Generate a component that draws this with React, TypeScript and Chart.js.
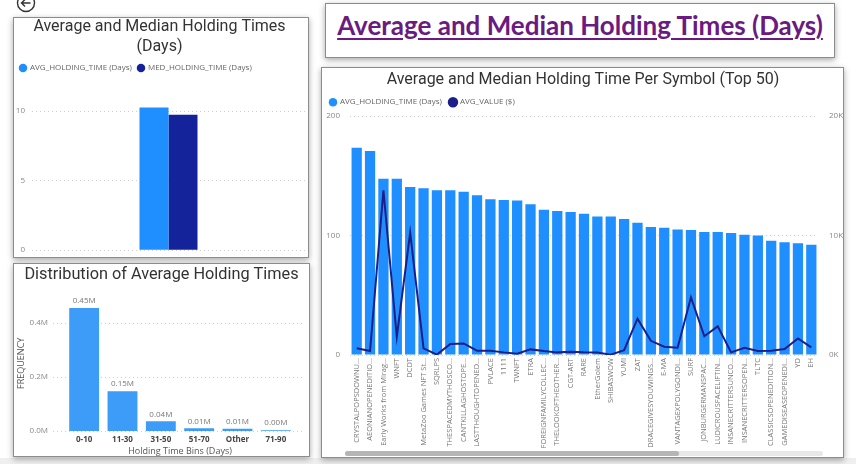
import React, { useEffect, useRef } from "react";
import { Chart, registerables } from "chart.js";

Chart.register(...registerables);
Chart.defaults.font.family = "'Open Sans', 'Noto Sans', sans-serif";
Chart.defaults.color = "#777";

// ---------- data ----------
const summaryCategories = ["Holding Time"];
const avgHoldingTime = [10.27];
const medHoldingTime = [9.75];
const summaryTicks = [0, 5, 10];

const binLabels = ["0-10", "11-30", "31-50", "51-70", "Other", "71-90"];
const binFrequency = [454000, 147000, 36000, 10000, 8000, 3000];
const binTicks = [0, 200000, 400000];

const symbols = [
  "CRYSTALPOPSDOWNU...",
  "AEONIANOPENEDITIO...",
  "Early Works from Mirag...",
  "WNFT",
  "DCDT",
  "MetaZoo Games NFT St...",
  "SQRLPS",
  "THESPACEDMYTHOSCO...",
  "CANTKILLAGHOSTOPE...",
  "LASTTHOUGHTOPENED...",
  "PVLACE",
  "1111",
  "TWNFT",
  "ETRA",
  "FOREIGNFAMILYCOLLEC...",
  "THELOOKOFTHEOTHER...",
  "CGT-ART",
  "RARE",
  "EtherGolem",
  "SHIBASWOW",
  "YUMI",
  "ZAT",
  "DRACEGIVESYOUWINGS...",
  "E-MA",
  "VANTAGEXPOLYGONDI...",
  "SURF",
  "JONBURGERMANSPAC...",
  "LUDICROUSFACELIFTIN...",
  "INSANECRITTERSUNCO...",
  "INSANECRITTERSOPEN...",
  "TLTC",
  "CLASSICSOPENEDITION...",
  "GAMEDISEASEOPENEDI...",
  "YD",
  "EH",
];
const symbolAvgHolding = [
  173.5, 170.8, 147.6, 147.6, 140.7, 139.6, 137.9, 137.9, 136.8, 133.7, 130.4, 129.8,
  129.5, 126.2, 121.7, 120.6, 119.8, 118.3, 116.0, 116.0, 113.8, 110.8, 107.2, 106.6,
  105.2, 104.7, 103.0, 103.0, 102.2, 100.8, 100.0, 95.6, 94.5, 93.6, 92.3,
];
const symbolAvgValue = [
  560, 330, 13800, 1530, 10250, 560, 30, 920, 970, 360, 360, 220, 110, 470, 330, 220,
  280, 220, 200, 30, 410, 3040, 1190, 690, 610, 4830, 1570, 2400, 220, 610, 330, 360,
  500, 1380, 640,
];
const symbolLeftTicks = [0, 100, 200];
const symbolRightTicks = [0, 10000, 20000];

// ---------- styles ----------
const LIGHT_BLUE = "#1f8fff";
const HIST_BLUE = "#3d9cf7";
const NAVY = "#15239a";
const LINE_NAVY = "#1b1f8a";
const TITLE_FONT = "Roboto, 'Noto Sans', sans-serif";
const TITLE_COLOR = "#333333";
const GRID_COLOR = "#cfcfcf";

function fixWidth(w: number) {
  return (scale: any) => {
    scale.width = w;
  };
}
function fixHeight(h: number) {
  return (scale: any) => {
    scale.height = h;
  };
}

const extendedGrid = (left: number, right: number) => ({
  id: "extendedGrid",
  beforeDatasetsDraw(chart: any) {
    const ctx = chart.ctx;
    const y = chart.scales.y;
    const area = chart.chartArea;
    ctx.save();
    ctx.strokeStyle = GRID_COLOR;
    ctx.lineWidth = 1;
    ctx.setLineDash([1, 3]);
    y.ticks.forEach((t: any) => {
      const py = Math.round(y.getPixelForValue(t.value)) + 0.5;
      ctx.beginPath();
      ctx.moveTo(area.left - left, py);
      ctx.lineTo(area.right + right, py);
      ctx.stroke();
    });
    ctx.restore();
  },
});

const barValueLabels = {
  id: "barValueLabels",
  afterDatasetsDraw(chart: any) {
    const ctx = chart.ctx;
    const meta = chart.getDatasetMeta(0);
    const data = chart.data.datasets[0].data as number[];
    ctx.save();
    ctx.font = "8px 'Open Sans', sans-serif";
    ctx.fillStyle = "#777";
    ctx.textAlign = "center";
    ctx.textBaseline = "bottom";
    meta.data.forEach((el: any, i: number) => {
      ctx.fillText((data[i] / 1e6).toFixed(2) + "M", el.x, el.y - 3);
    });
    ctx.restore();
  },
};

function ChartCanvas({
  left,
  top,
  width,
  height,
  make,
}: {
  left: number;
  top: number;
  width: number;
  height: number;
  make: () => any;
}) {
  const ref = useRef<HTMLCanvasElement>(null);
  useEffect(() => {
    const chart = new Chart(ref.current as HTMLCanvasElement, make());
    return () => chart.destroy();
  }, []);
  return (
    <canvas
      ref={ref}
      width={width}
      height={height}
      style={{ position: "absolute", left, top, width, height }}
    />
  );
}

const legendLabels = (padding: number) => ({
  usePointStyle: true,
  pointStyle: "circle",
  boxWidth: 6,
  boxHeight: 6,
  font: { size: 8 },
  color: "#666",
  padding,
  sort: (a: any, b: any) => a.datasetIndex - b.datasetIndex,
});

function summaryConfig() {
  return {
    type: "bar",
    data: {
      labels: summaryCategories,
      datasets: [
        {
          label: "AVG_HOLDING_TIME (Days)",
          data: avgHoldingTime,
          backgroundColor: LIGHT_BLUE,
          categoryPercentage: 0.2125,
          barPercentage: 1,
        },
        {
          label: "MED_HOLDING_TIME (Days)",
          data: medHoldingTime,
          backgroundColor: NAVY,
          categoryPercentage: 0.2125,
          barPercentage: 1,
        },
      ],
    },
    options: {
      responsive: false,
      animation: false,
      layout: { padding: { left: 0, right: 3, top: 0, bottom: 2 } },
      plugins: {
        tooltip: { enabled: false },
        title: {
          display: true,
          text: ["Average and Median Holding Times", "(Days)"],
          color: TITLE_COLOR,
          font: { family: TITLE_FONT, size: 16, weight: "normal", lineHeight: 1.25 },
          padding: { top: 3, bottom: 1 },
        },
        legend: {
          display: true,
          align: "start",
          labels: legendLabels(6),
        },
      },
      scales: {
        x: {
          display: false,
        },
        y: {
          min: 0,
          max: 12.1,
          afterFit: fixWidth(18),
          afterBuildTicks: (s: any) => {
            s.ticks = summaryTicks.map((v) => ({ value: v }));
          },
          border: { display: false, dash: [1, 3] },
          grid: { color: GRID_COLOR, drawTicks: false },
          ticks: { font: { size: 8 }, color: "#888", padding: 7 },
        },
      },
    },
  } as any;
}

function histogramConfig() {
  return {
    type: "bar",
    data: {
      labels: binLabels,
      datasets: [
        {
          label: "FREQUENCY",
          data: binFrequency,
          backgroundColor: HIST_BLUE,
          categoryPercentage: 0.78,
          barPercentage: 1,
        },
      ],
    },
    plugins: [extendedGrid(12, 10), barValueLabels],
    options: {
      responsive: false,
      animation: false,
      layout: { padding: 0 },
      plugins: {
        tooltip: { enabled: false },
        legend: { display: false },
        title: {
          display: true,
          text: "Distribution of Average Holding Times",
          color: TITLE_COLOR,
          font: { family: TITLE_FONT, size: 16.3, weight: "normal", lineHeight: 1.2 },
          padding: { top: 3, bottom: 11 },
        },
      },
      scales: {
        x: {
          afterFit: fixHeight(26),
          grid: { display: false, drawTicks: false },
          border: { display: false },
          ticks: { font: { size: 8, weight: "bold" }, color: "#444", padding: 4 },
          title: {
            display: true,
            text: "Holding Time Bins (Days)",
            color: "#555",
            font: { size: 9 },
            padding: { top: 0, bottom: 0 },
          },
        },
        y: {
          min: 0,
          max: 500000,
          afterFit: fixWidth(51),
          afterBuildTicks: (s: any) => {
            s.ticks = binTicks.map((v) => ({ value: v }));
          },
          grid: { display: false, drawTicks: false },
          border: { display: false },
          ticks: {
            font: { size: 8 },
            color: "#888",
            padding: 17,
            callback: (v: any) => (v / 1e6).toFixed(1) + "M",
          },
          title: {
            display: true,
            text: "FREQUENCY",
            color: "#555",
            font: { size: 9 },
            padding: { top: 2, bottom: 0 },
          },
        },
        margin: {
          position: "right",
          display: true,
          afterFit: fixWidth(14),
          grid: { display: false, drawTicks: false },
          border: { display: false },
          ticks: { display: false },
        },
      },
    },
  } as any;
}

function symbolConfig() {
  return {
    type: "bar",
    data: {
      labels: symbols,
      datasets: [
        {
          type: "bar",
          label: "AVG_HOLDING_TIME (Days)",
          data: symbolAvgHolding,
          backgroundColor: LIGHT_BLUE,
          categoryPercentage: 0.8,
          barPercentage: 0.96,
          yAxisID: "y",
          order: 2,
        },
        {
          type: "line",
          label: "AVG_VALUE ($)",
          data: symbolAvgValue,
          borderColor: LINE_NAVY,
          backgroundColor: LINE_NAVY,
          borderWidth: 2,
          pointRadius: 0,
          tension: 0,
          yAxisID: "y1",
          order: 1,
        },
      ],
    },
    options: {
      responsive: false,
      animation: false,
      layout: { padding: 0 },
      plugins: {
        tooltip: { enabled: false },
        title: {
          display: true,
          text: "Average and Median Holding Time Per Symbol (Top 50)",
          color: TITLE_COLOR,
          font: { family: TITLE_FONT, size: 16, weight: "normal", lineHeight: 1.2 },
          padding: { top: 3, bottom: 1 },
        },
        legend: {
          display: true,
          align: "start",
          labels: legendLabels(8),
        },
      },
      scales: {
        x: {
          afterFit: fixHeight(95),
          grid: { display: false, drawTicks: false },
          border: { display: false },
          ticks: {
            autoSkip: false,
            minRotation: 90,
            maxRotation: 90,
            font: { size: 7.5 },
            color: "#777",
            padding: 3,
          },
        },
        y: {
          position: "left",
          min: 0,
          max: 200,
          afterFit: fixWidth(28),
          afterBuildTicks: (s: any) => {
            s.ticks = symbolLeftTicks.map((v) => ({ value: v }));
          },
          border: { display: false, dash: [1, 3] },
          grid: { color: GRID_COLOR, drawTicks: false },
          ticks: { font: { size: 8 }, color: "#888", padding: 10 },
        },
        y1: {
          position: "right",
          min: 0,
          max: 20000,
          afterFit: fixWidth(26),
          afterBuildTicks: (s: any) => {
            s.ticks = symbolRightTicks.map((v) => ({ value: v }));
          },
          border: { display: false },
          grid: { display: false, drawTicks: false },
          ticks: {
            font: { size: 8 },
            color: "#888",
            padding: 11,
            callback: (v: any) => v / 1000 + "K",
          },
        },
      },
    },
  } as any;
}

const panelStyle = (left: number, top: number, width: number, height: number): React.CSSProperties => ({
  position: "absolute",
  left,
  top,
  width,
  height,
  boxSizing: "border-box",
  border: "1px solid #8c8c8c",
  background: "#fff",
  boxShadow: "0 2px 6px rgba(0,0,0,0.35)",
});

export default function App() {
  return (
    <div
      style={{
        position: "absolute",
        left: 0,
        top: 0,
        width: 856,
        height: 464,
        overflow: "hidden",
        background: "#fff",
      }}
    >
      <div style={{ position: "absolute", left: 0, top: 458, width: 856, height: 6, background: "#efefef" }} />

      <svg
        width={22}
        height={14}
        viewBox="0 0 22 14"
        style={{ position: "absolute", left: 16, top: 0 }}
      >
        <circle cx={10} cy={3} r={8.5} fill="none" stroke="#333" strokeWidth={1.4} />
        <path d="M14.5 3 H5.5 M9 -0.5 L5.5 3 L9 6.5" fill="none" stroke="#333" strokeWidth={1.4} />
      </svg>

      <div style={panelStyle(13, 17, 296, 241)} />
      <div style={panelStyle(13, 263, 297, 194)} />
      <ChartCanvas left={14} top={262} width={295} height={195} make={histogramConfig} />
      <ChartCanvas left={14} top={14} width={294} height={248} make={summaryConfig} />

      <div style={{ ...panelStyle(325, 3, 510, 55), display: "flex", alignItems: "center", justifyContent: "center" }}>
        <span
          style={{
            fontFamily: "Lato, 'Open Sans', sans-serif",
            fontWeight: 700,
            fontSize: 26,
            color: "#6a1a80",
            textDecoration: "underline",
            textDecorationThickness: 2,
            textUnderlineOffset: 3,
            marginTop: -12,
          }}
        >
          Average and Median Holding Times (Days)
        </span>
      </div>

      <div style={panelStyle(321, 67, 523, 391)} />
      <ChartCanvas left={322} top={67} width={522} height={383} make={symbolConfig} />

      <div
        style={{
          position: "absolute",
          left: 345,
          top: 451,
          width: 478,
          height: 5,
          borderRadius: 3,
          background: "#e8e8e8",
        }}
      />
      <div
        style={{
          position: "absolute",
          left: 345,
          top: 451,
          width: 334,
          height: 5,
          borderRadius: 3,
          background: "#b5b5b5",
        }}
      />
    </div>
  );
}
